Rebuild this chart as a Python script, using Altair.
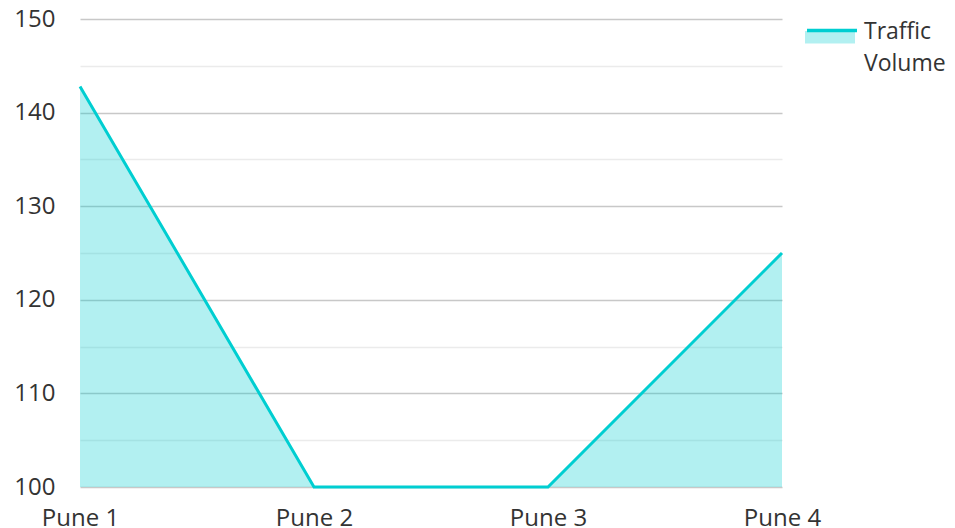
import altair as alt
import pandas as pd

categories = ["Pune 1", "Pune 2", "Pune 3", "Pune 4"]
traffic_volume = [142.8, 100, 100, 125]
series_name = "Traffic Volume"
y_ticks = [100, 105, 110, 115, 120, 125, 130, 135, 140, 145, 150]

df = pd.DataFrame({
    "location": categories,
    "volume": traffic_volume,
    "series": [series_name] * len(categories),
})

COLOR = "#00CED1"
FONT = "Open Sans"
TEXT = "#333333"
FS = 24

x_enc = alt.X(
    "location:N",
    sort=categories,
    scale=alt.Scale(type="point", padding=0),
    axis=alt.Axis(title=None, labelAngle=0, domain=False, ticks=False, grid=False,
                  labelPadding=19, labelFontSize=FS, labelColor=TEXT, labelFont=FONT),
)
y_enc = alt.Y(
    "volume:Q",
    scale=alt.Scale(domain=[100, 150], nice=False, zero=False),
    axis=alt.Axis(
        title=None, values=y_ticks, domain=False, ticks=False,
        labelExpr="datum.value % 10 === 0 ? datum.label : ''",
        gridColor={"condition": {"test": "datum.value % 10 === 0", "value": "#c8c8c8"},
                   "value": "#ebebeb"},
        gridWidth=1.5,
        labelPadding=25, labelFontSize=FS, labelColor=TEXT, labelFont=FONT,
    ),
)

area = alt.Chart(df).mark_area(fillOpacity=0.3, interpolate="linear").encode(
    x=x_enc,
    y=y_enc,
    y2=alt.datum(100),
    fill=alt.Fill("series:N", scale=alt.Scale(range=[COLOR]),
                  legend=alt.Legend(orient="none", legendX=725, legendY=2,
                                    symbolType="M-1,-0.6H1V-0.1H-1Z", symbolSize=2500,
                                    symbolOpacity=0.3, symbolStrokeWidth=0,
                                    labelExpr="''", title=None)),
)

line = alt.Chart(df).mark_line(strokeWidth=3).encode(
    x=x_enc,
    y=y_enc,
    stroke=alt.Stroke("series:N", scale=alt.Scale(range=[COLOR]),
                      legend=alt.Legend(orient="none", legendX=725, legendY=2,
                                        symbolType="M-1,-0.7H1", symbolSize=2500,
                                        symbolStrokeWidth=3.5,
                                        labelExpr="''",
                                        title=["Traffic", "Volume"], titleOrient="right",
                                        titleFontSize=23, titleFontWeight="normal",
                                        titleFont=FONT, titleColor=TEXT,
                                        titleLineHeight=32, titleAnchor="start",
                                        titleBaseline="top", titlePadding=0)),
)

chart = alt.layer(area, line).resolve_legend(fill="independent", stroke="independent").properties(
    width=702, height=468,
    padding={"top": -1, "left": 5, "right": 0, "bottom": 0},
).configure_view(strokeWidth=0)

chart.save("out.html", embed_options={"renderer": "svg", "actions": False})
